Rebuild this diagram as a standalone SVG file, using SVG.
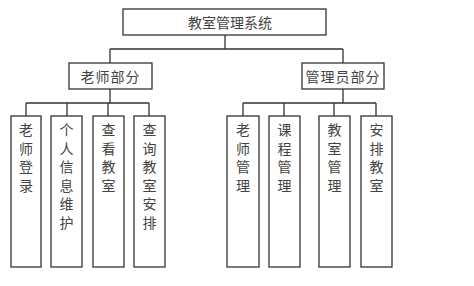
<svg xmlns="http://www.w3.org/2000/svg" width="474" height="286" viewBox="0 0 474 286">
<style>
.b{fill:#fff;stroke:#333;stroke-width:1.3}
.c{fill:none;stroke:#333;stroke-width:1.3}
text{font-family:"Noto Sans CJK SC","Noto Sans CJK JP",sans-serif;font-size:14px;fill:#444;text-anchor:middle;dominant-baseline:central}
</style>
<rect width="474" height="286" fill="#fff"/>
<g id="connectors">
<path class="c" d="M225 35V49M110 49H343M110 49V63M343 49V63"/>
<path class="c" d="M110 89V103M26 103H149M26 103V116M67 103V116M108 103V116M149 103V116"/>
<path class="c" d="M343 89V103M243 103H376M243 103V116M284 103V116M334 103V116M376 103V116"/>
</g>
<g id="root"><rect class="b" x="123" y="9" width="203" height="26"/><text x="230" y="22">教室管理系统</text></g>
<g id="teacher"><rect class="b" x="69" y="63" width="83" height="26"/><text x="110.5" y="76" letter-spacing="1">老师部分</text></g>
<g id="admin"><rect class="b" x="302" y="63" width="82" height="26"/><text x="343" y="76" letter-spacing="1">管理员部分</text></g>
<g id="t1"><rect class="b" x="11" y="116" width="30" height="151"/><text x="26" y="129">老</text><text x="26" y="147.5">师</text><text x="26" y="166">登</text><text x="26" y="184.5">录</text></g>
<g id="t2"><rect class="b" x="51" y="116" width="31" height="151"/><text x="66.5" y="129">个</text><text x="66.5" y="147.5">人</text><text x="66.5" y="166">信</text><text x="66.5" y="184.5">息</text><text x="66.5" y="203">维</text><text x="66.5" y="221.5">护</text></g>
<g id="t3"><rect class="b" x="93" y="116" width="31" height="151"/><text x="108.5" y="129">查</text><text x="108.5" y="147.5">看</text><text x="108.5" y="166">教</text><text x="108.5" y="184.5">室</text></g>
<g id="t4"><rect class="b" x="134" y="116" width="31" height="151"/><text x="149.5" y="129">查</text><text x="149.5" y="147.5">询</text><text x="149.5" y="166">教</text><text x="149.5" y="184.5">室</text><text x="149.5" y="203">安</text><text x="149.5" y="221.5">排</text></g>
<g id="a1"><rect class="b" x="227" y="116" width="32" height="151"/><text x="243" y="129">老</text><text x="243" y="147.5">师</text><text x="243" y="166">管</text><text x="243" y="184.5">理</text></g>
<g id="a2"><rect class="b" x="269" y="116" width="31" height="151"/><text x="284.5" y="129">课</text><text x="284.5" y="147.5">程</text><text x="284.5" y="166">管</text><text x="284.5" y="184.5">理</text></g>
<g id="a3"><rect class="b" x="319" y="116" width="31" height="151"/><text x="334.5" y="129">教</text><text x="334.5" y="147.5">室</text><text x="334.5" y="166">管</text><text x="334.5" y="184.5">理</text></g>
<g id="a4"><rect class="b" x="361" y="116" width="31" height="151"/><text x="376.5" y="129">安</text><text x="376.5" y="147.5">排</text><text x="376.5" y="166">教</text><text x="376.5" y="184.5">室</text></g>
</svg>
